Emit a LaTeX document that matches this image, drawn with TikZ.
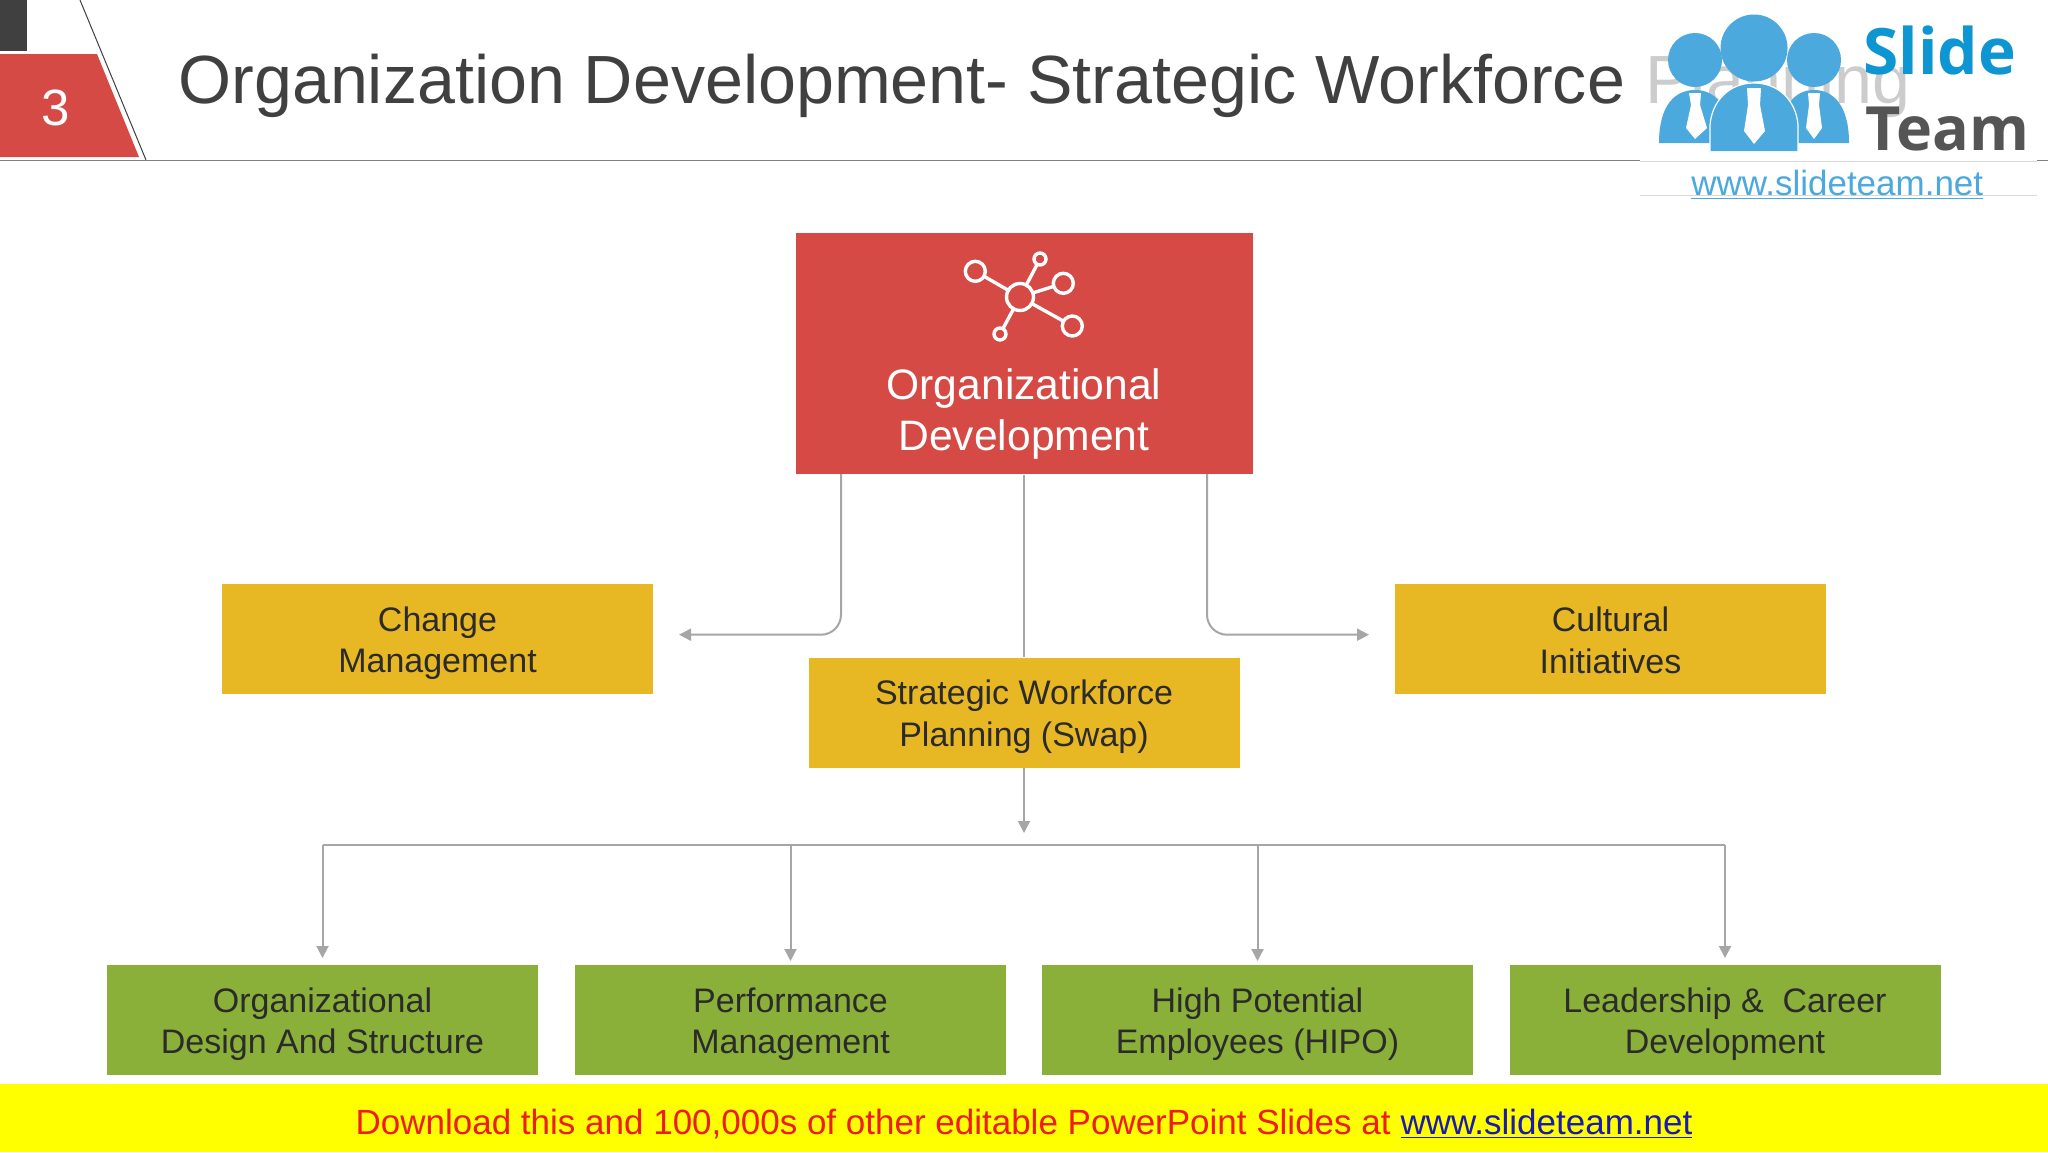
\documentclass[tikz,border=0pt]{standalone}
\usepackage{fontspec}
\setmainfont{Liberation Sans}
\newfontfamily\logofont{Open Sans}
\usetikzlibrary{arrows.meta}
\definecolor{redbox}{HTML}{D54A45}
\definecolor{yelbox}{HTML}{E8B824}
\definecolor{grnbox}{HTML}{8AB03A}
\definecolor{conn}{HTML}{A6A6A6}
\definecolor{ink}{HTML}{2B2B2B}
\definecolor{titleink}{HTML}{404040}
\definecolor{logoblue}{HTML}{4BA9DE}
\definecolor{slideblue}{HTML}{0E96D2}
\definecolor{teamgray}{HTML}{555555}
\definecolor{bandyellow}{HTML}{FFFF00}
\definecolor{promored}{HTML}{EE1C1C}
\definecolor{promoblue}{HTML}{1A1AB0}
\tikzset{
  box/.style={inner sep=0pt,align=center,text=ink,font=\fontsize{17}{20.7}\selectfont},
  yelnode/.style={box,fill=yelbox,minimum width=215.5pt,minimum height=55pt},
  grnnode/.style={box,fill=grnbox,minimum width=215.5pt,minimum height=55pt},
  link/.style={draw=conn,line width=1pt,-{Triangle[length=6pt,width=6pt]}},
  plain/.style={draw=conn,line width=1pt},
  iconline/.style={draw=white,line width=1.7pt},
  person/.style={fill=logoblue,draw=none},
  tie/.style={fill=white,draw=none}
}
\begin{document}
\begin{tikzpicture}[x=0.5pt,y=-0.5pt]
\useasboundingbox (0,0) rectangle (2048,1152);
\fill[white] (0,0) rectangle (2048,1152);
% header
\fill[titleink] (0,0) rectangle (27,51);
\fill[redbox] (0,54) -- (97,54) -- (139,157) -- (0,157) -- cycle;
\draw[titleink,line width=0.5pt] (80,0) -- (146,160);
\draw[gray,line width=0.9pt] (0,160.5) -- (1640,160.5);
\draw[gray,line width=0.9pt] (2037,160.5) -- (2048,160.5);
\node[text=white,font=\fontsize{25.5}{30}\selectfont,inner sep=0pt] (num) at (56,108) {3};
\node[anchor=base west,inner sep=0pt,text=titleink,font=\fontsize{34.1}{40}\selectfont] (title) at (178,103) {Organization Development- Strategic Workforce};
% logo
\draw[black!15,line width=0.5pt] (1640,161) -- (2037,161);
\draw[black!15,line width=0.5pt] (1640,195.5) -- (2037,195.5);
\node[anchor=base west,inner sep=0pt,text=black!20,font=\fontsize{34.1}{40}\selectfont] (titleb) at (1645,103) {Planning};
\fill[person] (1659,143) .. controls (1659,105) and (1675,90) .. (1695,90) .. controls (1715,90) and (1730,105) .. (1730,143) -- cycle;
\fill[person] (1849,143) .. controls (1849,105) and (1833,90) .. (1814,90) .. controls (1795,90) and (1780,105) .. (1780,143) -- cycle;
\fill[person] (1695,60) circle (27);
\fill[person] (1814,60) circle (27);
\fill[person] (1710,151) -- (1710,125) .. controls (1712,100) and (1730,83) .. (1754,83) .. controls (1778,83) and (1796,100) .. (1798,125) -- (1798,151) -- cycle;
\draw[white,line width=0.6pt] (1710,151) -- (1710,125) .. controls (1712,100) and (1730,83) .. (1754,83) .. controls (1778,83) and (1796,100) .. (1798,125) -- (1798,151);
\fill[person] (1754,48) circle (33.5);
\fill[tie] (1689,93) -- (1701,93) -- (1700,105) -- (1707,128) -- (1695,139) -- (1686,128) -- (1691,105) -- cycle;
\fill[tie] (1747,88) -- (1761,88) -- (1760,105) -- (1765,131) -- (1754,144) -- (1744,131) -- (1748,105) -- cycle;
\fill[tie] (1808,93) -- (1820,93) -- (1819,105) -- (1822,128) -- (1814,139) -- (1806,128) -- (1809,105) -- cycle;
\node[anchor=base west,inner sep=0pt,text=slideblue,font=\logofont\bfseries\fontsize{32}{36}\selectfont] (slide) at (1863,74) {Slide};
\node[anchor=base west,inner sep=0pt,text=teamgray,font=\logofont\bfseries\fontsize{30.5}{36}\selectfont] (team) at (1865,150) {Team};
\node[anchor=base west,inner sep=0pt,text=logoblue,font=\fontsize{17.5}{20}\selectfont] (url) at (1691,195) {\underline{www.slideteam.net}};
% boxes
\node[fill=redbox,minimum width=228.5pt,minimum height=120.75pt,inner sep=0pt] (org) at (1024,353.5) {};
\node[text=white,align=center,inner sep=0pt,font=\fontsize{21.3}{25.5}\selectfont] (orgtext) at (1024,414) {Organizational\\Development};
\node[yelnode] (change) at (437.5,639) {}; 
\node[box,anchor=center] (changet) at (437.5,643) {Change\\Management};
\node[yelnode] (swp) at (1024,712.5) {};
\node[box] (swpt) at (1024,716.5) {Strategic Workforce\\Planning (Swap)};
\node[yelnode] (cult) at (1610.5,639) {};
\node[box] (cultt) at (1610.5,640.4) {Cultural\\Initiatives};
\node[grnnode] (g1) at (322.5,1020) {};
\node[box] (g1t) at (322.5,1024) {Organizational\\Design And Structure};
\node[grnnode] (g2) at (790.5,1020) {};
\node[box] (g2t) at (790.5,1024) {Performance\\Management};
\node[grnnode] (g3) at (1257.5,1020) {};
\node[box] (g3t) at (1257.5,1024) {High Potential\\Employees (HIPO)};
\node[grnnode] (g4) at (1725,1020) {};
\node[box] (g4t) at (1725,1024) {Leadership \&\ \ Career\\Development};
% icon
\coordinate (hub) at (1020,297);
\coordinate (n1) at (975.3,271.3);
\coordinate (n2) at (1040,259);
\coordinate (n3) at (1063.3,283.3);
\coordinate (n4) at (1072.3,326);
\coordinate (n5) at (1000,334);
\draw[iconline] (hub) -- (n1); \draw[iconline] (hub) -- (n2); \draw[iconline] (hub) -- (n3); \draw[iconline] (hub) -- (n4); \draw[iconline] (hub) -- (n5);
\draw[iconline,fill=redbox] (hub) circle (13.5);
\draw[iconline,fill=redbox] (n1) circle (10);
\draw[iconline,fill=redbox] (n2) circle (6);
\draw[iconline,fill=redbox] (n3) circle (10);
\draw[iconline,fill=redbox] (n4) circle (10);
\draw[iconline,fill=redbox] (n5) circle (6);
% connectors
\coordinate (lstart) at (841,474);
\coordinate (rstart) at (1207,474);
\coordinate (lend) at (679,634.7);
\coordinate (rend) at (1369,634.7);
\coordinate (busarrow) at (1024,833);
\coordinate (bus1) at (322.5,845);
\coordinate (bus2) at (790.5,845);
\coordinate (bus3) at (1257.5,845);
\coordinate (bus4) at (1725,845);
\coordinate (e1) at (322.5,958);
\coordinate (e2) at (790.5,961);
\coordinate (e3) at (1257.5,961);
\coordinate (e4) at (1725,958);
\draw[link,rounded corners=10pt] (lstart) |- (lend);
\draw[link,rounded corners=10pt] (rstart) |- (rend);
\draw[plain] (org.south) -- (swp.north);
\draw[link] (swp.south) -- (busarrow);
\draw[plain] (bus1) -- (bus4);
\draw[link] (bus1) -- (e1);
\draw[link] (bus2) -- (e2);
\draw[link] (bus3) -- (e3);
\draw[link] (bus4) -- (e4);
% footer
\fill[bandyellow] (0,1084) rectangle (2048,1152);
\node[anchor=base,inner sep=0pt,font=\fontsize{17.5}{20}\selectfont,text=promored] (promo) at (1024,1134) {Download this and 100,000s of other editable PowerPoint Slides at \textcolor{promoblue}{\underline{www.slideteam.net}}};
\end{tikzpicture}
\end{document}
